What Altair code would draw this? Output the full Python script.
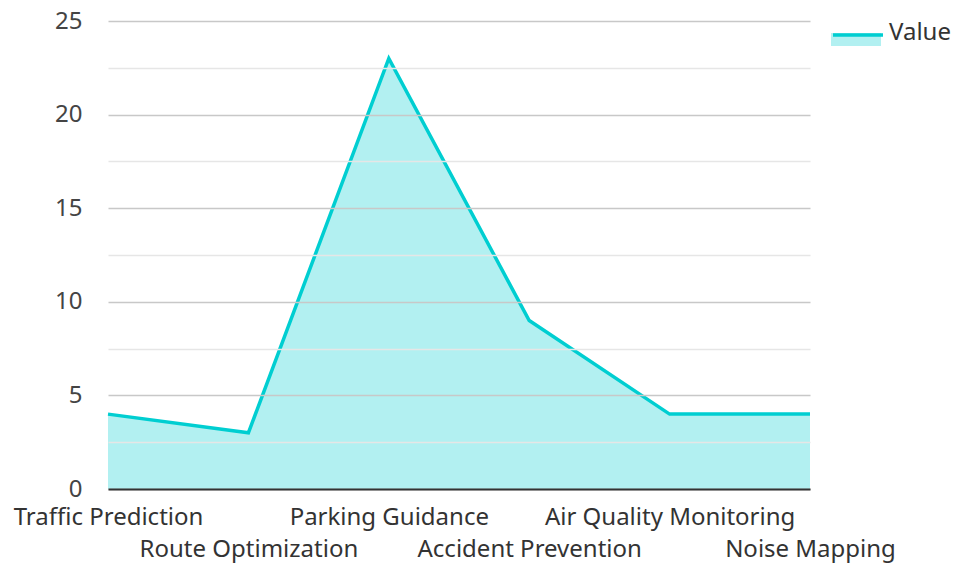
import altair as alt
import pandas as pd

categories = ["Traffic Prediction", "Route Optimization", "Parking Guidance",
              "Accident Prevention", "Air Quality Monitoring", "Noise Mapping"]
values = [4, 3, 23, 9, 4, 4]
series_name = "Value"
y_ticks = [0, 2.5, 5, 7.5, 10, 12.5, 15, 17.5, 20, 22.5, 25]

df = pd.DataFrame({"category": categories, "value": values, "series": series_name})

FONT = "Noto Sans"
LINE = "#00CED1"
FILL = "#B2F0F1"
FS = 24
second_row = categories[1::2]
row_test = "indexof([" + ",".join("'%s'" % c for c in second_row) + "], datum.value) >= 0"

x_enc = alt.X(
    "category:N", sort=categories,
    scale=alt.Scale(type="point", padding=0),
    axis=alt.Axis(
        title=None, labelAngle=0, ticks=False, grid=False,
        domainColor="#333333", domainWidth=2,
        labelFont=FONT, labelFontSize=FS, labelColor="#333333", labelLimit=0,
        labelOverlap=False, labelBound=False, labelFlush=False,
        labelPadding={"condition": {"test": row_test, "value": 48}, "value": 16},
        zindex=1,
    ),
)
y_enc = alt.Y(
    "value:Q",
    scale=alt.Scale(domain=[0, 25], nice=False, zero=True),
    axis=alt.Axis(
        title=None, values=y_ticks, domain=False, ticks=False,
        labelExpr="datum.value % 5 === 0 ? datum.label : ''",
        labelFont=FONT, labelFontSize=FS, labelColor="#444444", labelPadding=26,
        gridColor={"condition": {"test": "datum.value % 5 === 0", "value": "#c8c8c8"},
                   "value": "#e6e6e6"},
        gridWidth=1.5, zindex=1,
    ),
)

fill_path = "M-1,0L1,0L1,0.52L-1,0.52Z"
line_path = "M-1,0L1,0"
LX, LY = 723, -13

area = alt.Chart(df).mark_area(line=False).encode(
    x=x_enc, y=y_enc,
    fill=alt.Fill("series:N", scale=alt.Scale(range=[FILL]),
                  legend=alt.Legend(title=None, orient="none", legendX=LX, legendY=LY,
                                    symbolType=fill_path, symbolSize=2500, symbolStrokeWidth=0,
                                    labelFont=FONT, labelFontSize=FS, labelColor="#333333",
                                    labelOffset=8, padding=0)),
)
line = alt.Chart(df).mark_line(strokeWidth=3.5).encode(
    x=x_enc, y=y_enc,
    stroke=alt.Stroke("series:N", scale=alt.Scale(range=[LINE]),
                      legend=alt.Legend(title=None, orient="none", legendX=LX, legendY=LY,
                                        symbolType=line_path, symbolSize=2500, symbolStrokeWidth=3.5,
                                        labelExpr="''", labelFontSize=FS,
                                        labelOffset=8, padding=0)),
)

chart = (area + line).resolve_scale(fill="independent", stroke="independent").properties(
    width=702, height=468,
    autosize="none",
    padding={"left": 100, "top": 13, "right": 141, "bottom": 76},
).configure_view(stroke=None)

chart.save("out.html", embed_options={"renderer": "svg", "actions": False})
